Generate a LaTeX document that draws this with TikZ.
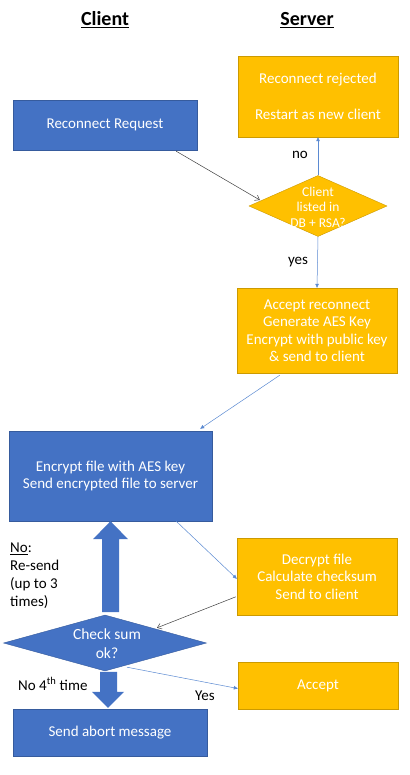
\documentclass[tikz,border=0pt]{standalone}
\usepackage{fontspec}
\setmainfont{Carlito}
\usetikzlibrary{shapes.geometric,arrows.meta,calc}
\definecolor{cblue}{HTML}{4472C4}
\definecolor{corange}{HTML}{FFC000}
\definecolor{lblue}{HTML}{5B8AD2}
\definecolor{dgray}{HTML}{404040}
\begin{document}
\begin{tikzpicture}[x=1pt,y=-1pt,
  bbox/.style={draw=#1!80!black, line width=0.4pt, fill=#1, text=white, align=center,
    inner sep=0pt, font=\fontsize{15}{17.5}\selectfont},
  dia/.style={diamond, draw=#1!80!black, line width=0.4pt, fill=#1, inner sep=0pt},
  wtext/.style={text=white, align=center, inner sep=0pt},
  lbl/.style={text=black, inner sep=0pt, font=\fontsize{15}{17.5}\selectfont},
  ttl/.style={text=black, inner sep=0pt, font=\fontsize{20}{24}\selectfont\bfseries},
  bconn/.style={draw=lblue, line width=0.5pt, -{Triangle[length=4pt,width=3.5pt]}},
  kconn/.style={draw=dgray, line width=0.5pt, -{Straight Barb[length=4pt,width=6pt]}},
  blockarrow/.style={fill=cblue, draw=none}
]
\useasboundingbox (0,0) rectangle (409,775);
\fill[white] (0,0) rectangle (409,775);

% titles
\node[ttl] (tclient) at (105,20) {\underline{Client}};
\node[ttl] (tserver) at (307,20) {\underline{Server}};

% boxes
\node[bbox=corange, minimum width=160pt, minimum height=81pt] (rej) at (318,96.5)
  {Reconnect rejected\\[18pt]Restart as new client};
\node[bbox=cblue, minimum width=184pt, minimum height=50pt] (req) at (105,125)
  {Reconnect Request};
\node[dia=corange, minimum width=138pt, minimum height=61pt] (db) at (318,206) {};
\node[wtext, font=\fontsize{13.5}{15.5}\selectfont] (dbt) at (318,207)
  {Client\\listed in\\DB + RSA?};
\node[bbox=corange, minimum width=160pt, minimum height=85pt] (acc) at (317,330.5)
  {Accept reconnect\\Generate AES Key\\Encrypt with public key\\\& send to client};
\node[bbox=cblue, minimum width=203pt, minimum height=90pt] (enc) at (110.5,476)
  {Encrypt file with AES key\\Send encrypted file to server};
\node[bbox=corange, minimum width=160pt, minimum height=77pt] (dec) at (317,576.5)
  {Decrypt file\\Calculate checksum\\Send to client};
\node[dia=cblue, minimum width=203pt, minimum height=56pt] (chk) at (105,643) {};
\node[wtext, font=\fontsize{15.5}{19}\selectfont] (chkt) at (107,643.5) {Check sum\\ok?};
\node[bbox=cblue, minimum width=194pt, minimum height=47pt] (abort) at (110,732.5)
  {Send abort message};
\node[bbox=corange, minimum width=160pt, minimum height=47pt] (accept) at (318,685.5)
  {Accept};

% thin connectors
\draw[kconn] ($(req.south east)+(-21,1)$) -- ($(db.west)+(11,-6)$);
\draw[bconn] (db.north) -- (rej.south);
\draw[bconn] (db.south) -- (acc.north);
\draw[bconn] ($(acc.south west)+(43,2)$) -- ($(enc.north east)+(-12,-2)$);
\draw[bconn] ($(enc.south east)+(-36,0)$) -- ($(dec.north west)+(0,41)$);
\draw[kconn] ($(dec.north west)+(-1,59)$) -- ($(chk.north)+(52,13)$);
\draw[bconn] ($(chk.south)+(22,-4)$) -- ($(accept.west)+(0,3)$);

% block arrows
\fill[blockarrow] ($(enc.south)+(-8.5,91)$) -- ++(0,-73) -- ++(-9,0) -- ($(enc.south)+(0,0)$)
  -- ($(enc.south)+(17.5,18)$) -- ++(-9,0) -- ++(0,73) -- cycle;
\fill[blockarrow] ($(abort.north)+(-10,-37)$) -- ++(0,20) -- ++(-8,0) -- ($(abort.north)+(-2,-1)$)
  -- ($(abort.north)+(14,-17)$) -- ++(-7,0) -- ++(0,-20) -- cycle;

% labels
\node[lbl] (lno) at (300,155) {no};
\node[lbl] (lyes) at (298,262) {yes};
\node[lbl, anchor=west] (lno4) at (18,684) {No 4\textsuperscript{th} time};
\node[lbl] (lyes2) at (205,696) {Yes};
\node[lbl, anchor=north west, align=left, font=\fontsize{15}{18}\selectfont] (lresend) at (10,543)
  {\underline{No}:\\Re-send\\(up to 3\\times)};
\end{tikzpicture}
\end{document}
